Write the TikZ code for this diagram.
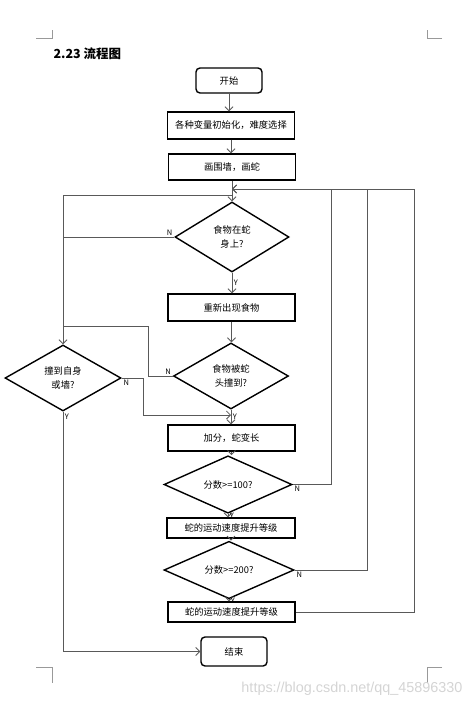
\documentclass[tikz,border=0pt]{standalone}
\usepackage{fontspec}
\setmainfont{Noto Sans CJK SC}
\newfontfamily\urlfont{Liberation Sans}
\usetikzlibrary{shapes.geometric,arrows.meta}

\tikzset{
  box/.style={draw, line width=1.4pt, minimum width=127pt, minimum height=26pt, inner sep=0pt, font=\fontsize{9.3}{11}\selectfont},
  termbox/.style={box, rounded corners=4pt, minimum width=66pt},
  choice/.style={draw, diamond, line width=1.4pt, inner sep=0pt, align=center, font=\fontsize{9.3}{13.5}\selectfont},
  line/.style={draw=black!65, line width=0.8pt},
  arr/.style={line, -{Straight Barb[length=4pt,width=8pt]}},
  yn/.style={font=\fontsize{7.5}{9}\selectfont, inner sep=1.5pt},
  corner/.style={draw=black!40, line width=0.6pt},
}

\begin{document}
\begin{tikzpicture}[x=1pt,y=-1pt]
\useasboundingbox (0,0) rectangle (474,706);

% page corner marks
\draw[corner] (36,38) -- (52,38) -- (52,30);
\draw[corner] (442,38) -- (427,38) -- (427,30);
\draw[corner] (36,667) -- (52,667) -- (52,683);
\draw[corner] (442,667) -- (427,667) -- (427,683);

\node[anchor=west, font=\fontsize{12.5}{14}\selectfont\bfseries] (title) at (50,54) {2.23 流程图};

\node[termbox, minimum height=25pt] (start) at (229,80.5) {开始};
\node[box, minimum height=27pt] (init) at (231,125.5) {各种变量初始化，难度选择};
\node[box] (wall) at (232,167) {画围墙，画蛇};
\node[choice, minimum width=114pt, minimum height=70pt] (onbody) at (232,237) {食物在蛇\\身上?};
\node[box, minimum height=27pt] (newfood) at (231.5,307.5) {重新出现食物};
\node[choice, minimum width=115pt, minimum height=66pt] (eaten) at (231,376) {食物被蛇\\头撞到?};
\node[choice, minimum width=116pt, minimum height=66pt] (crash) at (63,378) {撞到自身\\或墙?};
\node[box] (grow) at (231.5,438) {加分，蛇变长};
\node[choice, minimum width=128pt, minimum height=37pt] (score1) at (228,484.5) {分数>=100?};
\node[box, minimum height=20pt, minimum width=128pt] (speed1) at (231,528) {蛇的运动速度提升等级};
\node[choice, minimum width=130pt, minimum height=36pt] (score2) at (229,570) {分数>=200?};
\node[box, minimum height=20pt] (speed2) at (231.5,612) {蛇的运动速度提升等级};
\node[termbox, minimum height=29pt] (stop) at (234,651.5) {结束};

\coordinate (loop) at (232,189);
\coordinate (split) at (232,195);
\coordinate (back1) at (331,189);
\coordinate (back2) at (367,189);
\coordinate (back3) at (414,189);
\coordinate (detour) at (148,326);
\coordinate (bypass) at (143,415);

\foreach \from/\to in {start/init, init/wall, wall/onbody, newfood/eaten, grow/score1, speed1/score2}
	\draw[arr] (\from.south) -- (\from.south |- \to.north);

\foreach \from/\to in {onbody/newfood, eaten/grow, score1/speed1, score2/speed2}
	\draw[arr] (\from.south) -- node[yn, right] {Y} (\from.south |- \to.north);

% loops back to the top
\draw[arr] (score1.east) node[yn, below right] {N} -| (back1) -- (loop);
\draw[arr] (score2.east) node[yn, below right] {N} -| (back2) -- (loop);
\draw[arr] (speed2.east) -| (back3) -- (loop);

% left column
\draw[arr] (split) -| (crash.north);
\draw[line] (onbody.west) node[yn, above left] {N} -- (onbody.west -| crash.north);
\draw[line] (eaten.west) node[yn, above left] {N} -| (detour) -- (detour -| crash.north);
\draw[arr] (crash.east) node[yn, below right] {N} -| (bypass) -- (bypass -| eaten.south);
\draw[arr] (crash.south) node[yn, below right] {Y} |- (stop.west);

\node[anchor=east, text=black!17, font=\urlfont\fontsize{14.4}{16}\selectfont] (mark) at (466,689) {https://blog.csdn.net/qq\_45896330};

\end{tikzpicture}
\end{document}
